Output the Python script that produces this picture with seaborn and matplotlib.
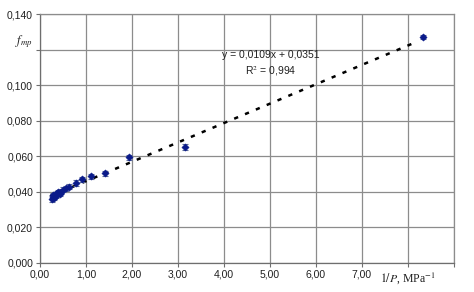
import matplotlib
matplotlib.use("Agg")
import matplotlib.pyplot as plt
import seaborn as sns
import pandas as pd
import numpy as np

# data
inv_p = [0.26, 0.28, 0.29, 0.31, 0.33, 0.35, 0.37, 0.40, 0.43, 0.46, 0.51, 0.57, 0.64, 0.78, 0.91, 1.10, 1.41, 1.94, 3.15, 8.33]
f_mp = [0.0360, 0.0372, 0.0380, 0.0368, 0.0385, 0.0378, 0.0392, 0.0398, 0.0390, 0.0402, 0.0413, 0.0420, 0.0430, 0.0449, 0.0470, 0.0488, 0.0505, 0.0595, 0.0652, 0.1270]
err = [0.0015, 0.0015, 0.0015, 0.0015, 0.0015, 0.0015, 0.0015, 0.0015, 0.0015, 0.0015, 0.0015, 0.0015, 0.0015, 0.0015, 0.0015, 0.0015, 0.0015, 0.0015, 0.0015, 0.0012]
slope = 0.0109
intercept = 0.0351
r2 = "0,994"
trend_x = [0.22, 8.2]
x_ticks = [0, 1, 2, 3, 4, 5, 6, 7, 8, 9]
x_labels = ["0,00", "1,00", "2,00", "3,00", "4,00", "5,00", "6,00", "7,00", r"$1/P$, MPa$^{-1}$", ""]
y_ticks = [0.0, 0.02, 0.04, 0.06, 0.08, 0.10, 0.12, 0.14]
y_labels = ["0,000", "0,020", "0,040", "0,060", "0,080", "0,100", r"$f_{mp}$", "0,140"]

sns.set_style("white")
plt.rcParams["font.family"] = ["Liberation Sans", "DejaVu Sans"]
plt.rcParams["mathtext.fontset"] = "stix"

fig = plt.figure(figsize=(4.74, 2.92), dpi=100)
ax = fig.add_axes([40/474, 1-263/292, 414/474, 249/292])

df = pd.DataFrame({"x": inv_p, "y": f_mp, "e": err})
trend = pd.DataFrame({"x": trend_x, "y": [slope*v + intercept for v in trend_x]})

sns.lineplot(data=trend, x="x", y="y", ax=ax, color="black", lw=1.8,
             linestyle=(0, (1.7, 3.0)), zorder=2)
ax.errorbar(df["x"], df["y"], yerr=df["e"], fmt="none", ecolor="#5a6a9a",
            elinewidth=0.8, capsize=2.2, capthick=0.8, zorder=3)
sns.scatterplot(data=df, x="x", y="y", ax=ax, marker="D", s=14, color="#0a1a8a",
                edgecolor="#0a1a8a", zorder=4)

ax.set_xlim(0, 9)
ax.set_ylim(0, 0.14)
ax.set_xticks(x_ticks)
ax.set_xticklabels(x_labels)
ax.set_yticks(y_ticks)
ax.set_yticklabels(y_labels)
for t in ax.get_xticklabels():
    t.set_fontsize(7.5)
for t in ax.get_yticklabels():
    t.set_fontsize(7.5)
lab = ax.get_xticklabels()[8]
lab.set_fontfamily("Liberation Serif")
lab.set_fontsize(8.5)
ylab = ax.get_yticklabels()[6]
ylab.set_fontsize(9)
ylab.set_verticalalignment("bottom")

ax.grid(True, color="#8c8c8c", lw=0.9)
ax.set_axisbelow(True)
for s in ["top", "right"]:
    ax.spines[s].set_visible(True)
    ax.spines[s].set_color("#8c8c8c")
    ax.spines[s].set_linewidth(0.9)
for s in ["left", "bottom"]:
    ax.spines[s].set_color("#6e6e6e")
    ax.spines[s].set_linewidth(0.9)
ax.tick_params(axis="both", which="major", direction="out", length=3, width=0.8,
               color="#6e6e6e", labelcolor="#202020", pad=2,
               bottom=True, left=True)
ax.set_xlabel("")
ax.set_ylabel("")

ax.text(5.02, 0.1170, f"y = {str(slope).replace('.', ',')}x + {str(intercept).replace('.', ',')}",
        ha="center", va="center", fontsize=7.5, color="#202020")
ax.text(5.02, 0.1080, f"R$^2$ = {r2}", ha="center", va="center", fontsize=7.5, color="#202020")

fig.savefig("out.png", dpi=100)
